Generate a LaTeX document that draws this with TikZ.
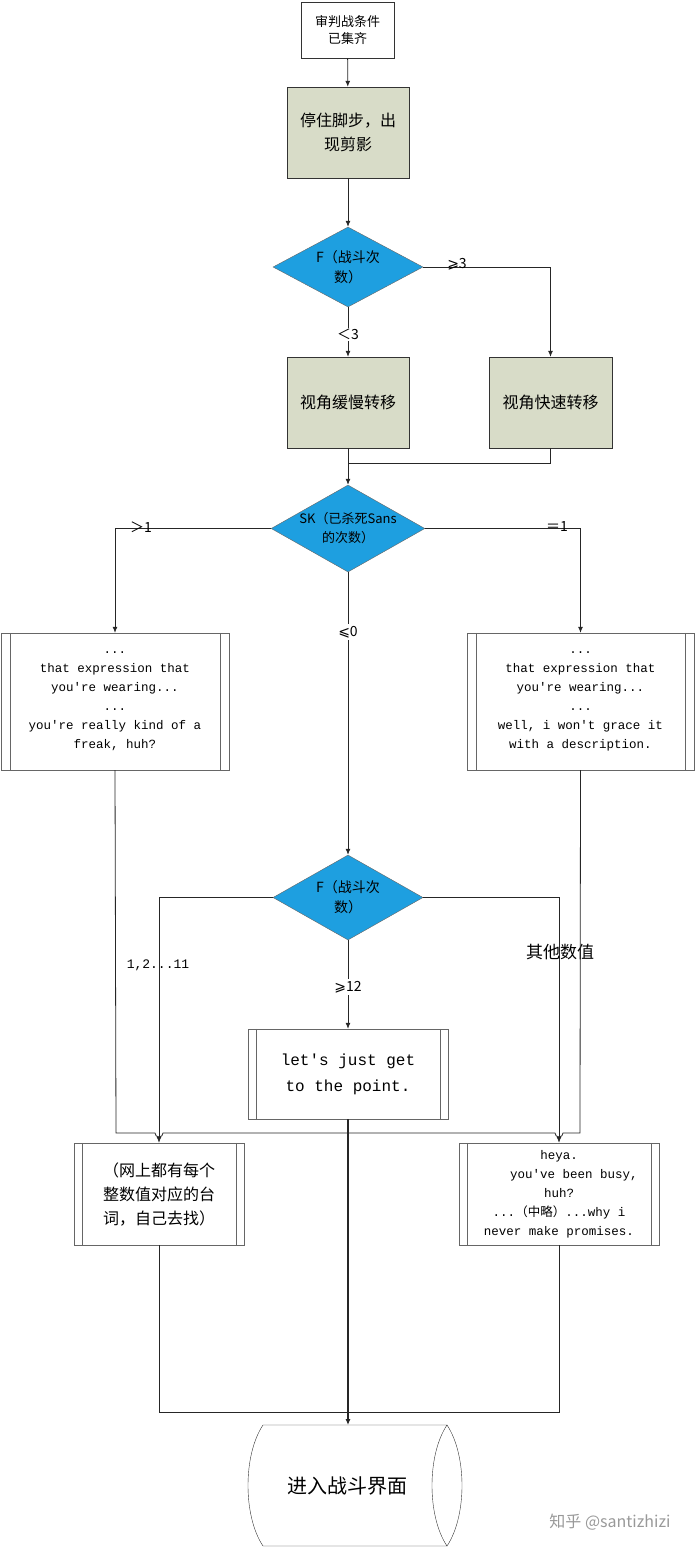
\documentclass[tikz,border=0pt]{standalone}
\usepackage{fontspec}
\setmainfont{Noto Sans CJK SC}
\newfontfamily\mono{Liberation Mono}
\newfontfamily\djv{DejaVu Sans}
\usetikzlibrary{shapes.geometric,arrows.meta}
\definecolor{boxg}{HTML}{D8DCC8}
\definecolor{dia}{HTML}{1E9FE0}
\begin{document}
\begin{tikzpicture}[x=1pt,y=-1pt,
  ln/.style={draw=black!85,line width=0.8pt},
  ar/.style={ln,-{Latex[length=6pt,width=5pt]}},
  plain/.style={draw=black!80,fill=white,align=center,inner sep=0pt,font=\fontsize{13}{17}\selectfont},
  grn/.style={draw=black!80,fill=boxg,align=center,inner sep=0pt,font=\fontsize{16}{24}\selectfont},
  dec/.style={diamond,draw=black!60,fill=dia,aspect=1.8,inner sep=0pt,align=center,font=\fontsize{14}{20}\selectfont},
  lab/.style={font=\fontsize{14}{16}\selectfont},
  proc/.style={draw=black!60,fill=white,align=center,inner sep=0pt},
]
\useasboundingbox (0,0) rectangle (696,1548);
\node[plain,minimum width=93,minimum height=56] (s) at (347.5,30) {审判战条件\\已集齐};
\node[grn,minimum width=122,minimum height=91] (b2) at (348,132.5) {停住脚步，出\\现剪影};
\node[dec,minimum width=150,minimum height=80] (d1) at (348,267) {F（战斗次\\数）};
\node[grn,minimum width=122,minimum height=91] (b3) at (348,402.5) {视角缓慢转移};
\node[grn,minimum width=123,minimum height=91] (b4) at (550.5,402.5) {视角快速转移};
\node[dec,minimum width=150,minimum height=87,font=\fontsize{13}{19}\selectfont] (d2) at (348,528.5) {SK（已杀死Sans\\的次数）};
\node[proc,minimum width=228,minimum height=137,font=\mono\fontsize{12.5}{19}\selectfont] (b5) at (115,701.5) {...\\that expression that\\you're wearing...\\...\\you're really kind of a\\freak, huh?};
\node[proc,minimum width=227,minimum height=137,font=\mono\fontsize{12.5}{19}\selectfont] (b6) at (580.5,701.5) {...\\that expression that\\you're wearing...\\...\\well, i won't grace it\\with a description.};
\node[dec,minimum width=150,minimum height=85] (d3) at (348,897.5) {F（战斗次\\数）};
\node[proc,minimum width=200,minimum height=90,font=\mono\fontsize{16}{26}\selectfont] (b9) at (348,1074) {let's just get\\to the point.};
\node[proc,minimum width=170,minimum height=102,font=\fontsize{16}{24}\selectfont] (b7) at (159,1194) {（网上都有每个\\整数值对应的台\\词，自己去找）};
\node[proc,minimum width=200,minimum height=102,font=\mono\fontsize{12.5}{19}\selectfont] (b8) at (559,1194) {heya.\\\ \ \ \ you've been busy,\\huh?\\...{\normalfont（中略）}...why i\\never make promises.};
\foreach \n/\w in {b5/9,b6/9,b9/8,b7/8,b8/8}{
  \draw[draw=black!60] ([xshift=\w]\n.north west) -- ([xshift=\w]\n.south west);
  \draw[draw=black!60] ([xshift=-\w]\n.north east) -- ([xshift=-\w]\n.south east);
}
\draw[draw=black!80,fill=white] (263,1425) -- (447,1425)
  .. controls (427,1455) and (427,1516) .. (447,1546) -- (263,1546)
  .. controls (243,1516) and (243,1455) .. (263,1425) -- cycle;
\draw[draw=black!80] (447,1425) .. controls (467,1455) and (467,1516) .. (447,1546);
\coordinate (cyl) at (348,1425);
\node[font=\fontsize{20}{24}\selectfont] (ct) at (347,1486) {进入战斗界面};
\node[text=black!40,font=\fontsize{16}{20}\selectfont] (wm) at (610,1522) {知乎 @santizhizi};
\draw[ar] (s) -- (b2);
\draw[ar] (b2) -- (d1);
\draw[ar] (d1) -- node[lab,pos=0.55,fill=white,inner sep=1pt]{＜3} (b3);
\draw[ar] (d1.east) -| (b4.north);
\node[lab] (l1) at (457,264) {{\djv ⩾}3};
\draw[ar] (b3) -- (d2);
\draw[ln] (b4.south) |- (348,463);
\draw[ar] (d2.west) -| (b5.north);
\node[lab] (l2) at (141,527) {＞1};
\draw[ar] (d2.east) -| (b6.north);
\node[lab] (l3) at (557,527) {＝1};
\draw[ar] (d2) -- (d3);
\node[lab,fill=white,inner sep=2pt] (l4) at (348,632) {{\djv ⩽}0};
\draw[ar] (d3) -- (b9);
\node[lab,fill=white,inner sep=2pt] (l5) at (348,987) {{\djv ⩾}12};
\draw[ar] (d3.west) -| (b7.north);
\node[font=\mono\fontsize{13}{16}\selectfont] (l6) at (158,965) {1,2...11};
\draw[ar] (d3.east) -| (b8.north);
\node[font=\fontsize{17}{20}\selectfont] (l7) at (560,952) {其他数值};
\draw[ln] (b5.south) -- (116,1133) -- (155,1133) arc[start angle=180,end angle=0,radius=4] -- (555,1133) arc[start angle=180,end angle=0,radius=4] -- (580,1133) -- (b6.south);
\draw[ln] (b7.south) |- (559,1412) -- (b8.south);
\draw[ar,line width=1.1pt] (b9.south) -- (cyl);
\end{tikzpicture}
\end{document}
